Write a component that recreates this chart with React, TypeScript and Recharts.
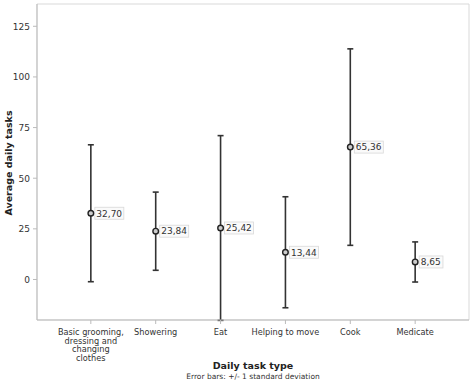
import React from "react";
import {
  ComposedChart,
  Scatter,
  ErrorBar,
  XAxis,
  YAxis,
  ReferenceArea,
} from "recharts";

const tasks = [
  "Basic grooming, dressing and changing clothes",
  "Showering",
  "Eat",
  "Helping to move",
  "Cook",
  "Medicate",
];
const means = [32.7, 23.84, 25.42, 13.44, 65.36, 8.65];
const sds = [33.8, 19.3, 45.6, 27.4, 48.5, 9.9];
const yTicks = [0, 25, 50, 75, 100, 125];

const data = tasks.map((t, i) => ({ idx: i, name: t, mean: means[i], sd: sds[i] }));

const FONT = "'DejaVu Sans', sans-serif";

// simple word wrap for tick labels
const wrap = (s: string, max: number) => {
  const words = s.split(" ");
  const lines: string[] = [];
  let cur = "";
  words.forEach((w) => {
    const next = cur ? cur + " " + w : w;
    if (next.length > max && cur) {
      lines.push(cur);
      cur = w;
    } else cur = next;
  });
  if (cur) lines.push(cur);
  return lines;
};

const XTick = (props: any) => {
  const { x, y, payload } = props;
  const lines = wrap(tasks[payload.value] ?? "", 15);
  return (
    <text x={x} y={y + 9} textAnchor="middle" fontSize={8.2} fill="#333" fontFamily={FONT}>
      {lines.map((l, i) => (
        <tspan key={i} x={x} dy={i === 0 ? 0 : 8.5}>
          {l}
        </tspan>
      ))}
    </text>
  );
};

const YTick = (props: any) => {
  const { x, y, payload } = props;
  return (
    <text x={x - 1} y={y + 3.5} textAnchor="end" fontSize={9} fill="#333" fontFamily={FONT}>
      {payload.value}
    </text>
  );
};

const Point = (props: any) => {
  const { cx, cy, payload } = props;
  const label = payload.mean.toFixed(2).replace(".", ",");
  const w = label.length * 5.2 + 3;
  return (
    <g>
      <rect x={cx + 4} y={cy - 6} width={w} height={12} fill="#fafafa" stroke="#d8d8d8" strokeWidth={0.8} />
      <text x={cx + 5.5} y={cy + 3.3} fontSize={9} fill="#333" fontFamily={FONT}>
        {label}
      </text>
      <circle cx={cx} cy={cy} r={2.8} fill="#ccc" stroke="#222" strokeWidth={1.4} />
    </g>
  );
};

const App: React.FC = () => {
  return (
    <div style={{ position: "absolute", left: 0, top: 0, width: 474, height: 382, background: "#fff" }}>
      <ComposedChart
        width={474}
        height={382}
        data={data}
        margin={{ top: 4, right: 5, bottom: 0, left: 0 }}
      >
        <ReferenceArea
          x1={-0.83}
          x2={5.83}
          y1={-20}
          y2={136}
          fill="none"
          stroke="#d9d9d9"
          ifOverflow="extendDomain"
        />
        <XAxis
          type="number"
          dataKey="idx"
          domain={[-0.83, 5.83]}
          ticks={[0, 1, 2, 3, 4, 5]}
          allowDataOverflow
          height={62}
          tick={<XTick />}
          tickSize={4}
          axisLine={{ stroke: "#bbb" }}
          tickLine={{ stroke: "#bbb" }}
          label={{
            content: () => (
              <g fontFamily={FONT} textAnchor="middle">
                <text x={253} y={369} fontSize={9.5} fontWeight="bold" fill="#222">
                  Daily task type
                </text>
                <text x={253} y={379} fontSize={7.5} fill="#333">
                  Error bars: +/- 1 standard deviation
                </text>
              </g>
            ),
          }}
        />
        <YAxis
          type="number"
          domain={[-20, 136]}
          ticks={yTicks}
          allowDataOverflow
          width={37}
          tick={<YTick />}
          tickSize={4}
          axisLine={{ stroke: "#bbb" }}
          tickLine={{ stroke: "#bbb" }}
          label={{
            content: () => (
              <text
                x={12}
                y={163}
                transform="rotate(-90, 12, 163)"
                textAnchor="middle"
                fontSize={9.5}
                fontWeight="bold"
                fill="#222"
                fontFamily={FONT}
              >
                Average daily tasks
              </text>
            ),
          }}
        />
        <Scatter dataKey="mean" shape={<Point />} isAnimationActive={false}>
          <ErrorBar dataKey="sd" direction="y" width={3} stroke="#333" strokeWidth={1.6} />
        </Scatter>
      </ComposedChart>
    </div>
  );
};

export default App;
